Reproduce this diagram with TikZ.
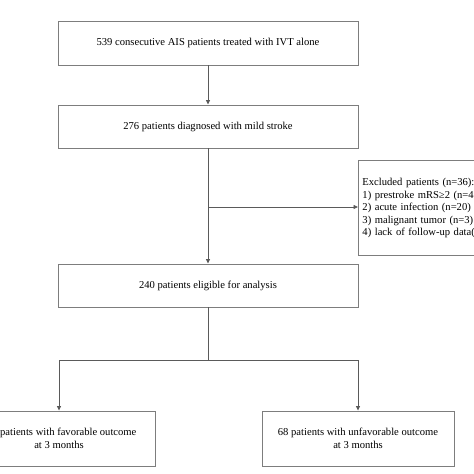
\documentclass[tikz,border=0pt]{standalone}
\definecolor{bordegris}{RGB}{125,125,125}
\definecolor{lineagris}{RGB}{90,90,90}
\usepackage{fontspec}
\setmainfont{Liberation Serif}
\usepackage{tikz}
\usetikzlibrary{arrows.meta,positioning,calc}
\begin{document}
\begin{tikzpicture}[x=1pt,y=-1pt,
    caja/.style={draw=bordegris,line width=0.9pt,inner sep=0pt,
      minimum width=300pt,minimum height=44pt,
      font=\fontsize{10.6}{13}\selectfont},
    flecha/.style={draw=lineagris,line width=0.8pt,
      -{Triangle[length=4.5pt,width=4pt]}},
    linea/.style={draw=lineagris,line width=0.8pt}]
  \useasboundingbox (0,0) rectangle (474,474);
  \clip (0,0) rectangle (474,474);
  % main column
  \node[caja] (consecutivos) at (208,43)
    {539 consecutive AIS patients treated with IVT alone};
  \node[caja,minimum height=43pt] (leves) at (208,126.5)
    {276 patients diagnosed with mild stroke};
  \node[caja,minimum height=43pt] (elegibles) at (208,285.5)
    {240 patients eligible for analysis};
  % exclusions
  \node[caja,anchor=north west,minimum width=160pt,minimum height=95pt,
        text width=152pt,align=left,inner xsep=4pt,
        font=\fontsize{10.6}{12.5}\selectfont]
    (excluidos) at (358,160)
    {Excluded patients (n=36):\\
     1) prestroke mRS≥2 (n=4)\\
     2) acute infection (n=20)\\
     3) malignant tumor (n=3)\\
     4) lack of follow-up data(n=9)};
  % outcomes
  \node[caja,minimum width=192pt,minimum height=55pt,align=center]
    (favorable) at (59,438.5)
    {172 patients with favorable outcome\\at 3 months};
  \node[caja,minimum width=192pt,minimum height=55pt,align=center]
    (desfavorable) at (358,438.5)
    {68 patients with unfavorable outcome\\at 3 months};
  \coordinate (rama) at (208,207);
  \coordinate (reparto) at (208,360);
  \draw[flecha] (consecutivos.south) -- (leves.north);
  \draw[flecha] (leves.south) -- (elegibles.north);
  \draw[flecha] (rama) -- (rama -| excluidos.west);
  \draw[linea] (elegibles.south) -- (reparto);
  \draw[flecha] (reparto) -| (favorable.north);
  \draw[flecha] (reparto) -| (desfavorable.north);
\end{tikzpicture}
\end{document}
